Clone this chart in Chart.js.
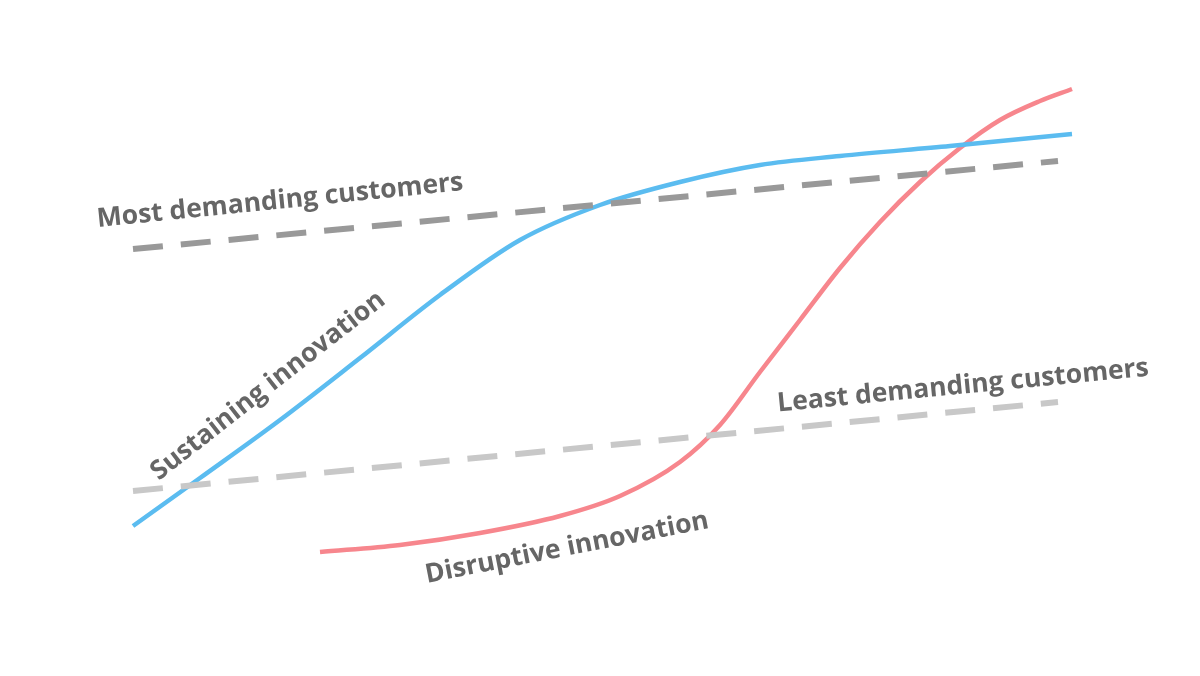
<!DOCTYPE html>
<html><head><meta charset="utf-8">
<script src="https://cdn.jsdelivr.net/npm/chart.js@4"></script>
<style>html,body{margin:0;background:#fff}#w{width:1200px;height:676px}</style>
</head><body><div id="w"><canvas id="c"></canvas></div>
<script>
// performance (y) over time (x), arbitrary units
const sustainingX = [133,200,280,360,440,520,600,680,760,840,950,1072];
const sustainingY = [526,478,420,358,295,240,205,182,165,156,146,134];
const disruptiveX = [320,400,480,560,620,680,720,760,800,840,880,920,960,1000,1040,1072];
const disruptiveY = [552,545,533,516,496,462,425,372,320,268,222,182,148,120,101,89];
const mostX = [133,1058], mostY = [249,161];
const leastX = [133,1058], leastY = [491,402];
const labels = [
  {text:'Most demanding customers', x:280, y:201, rot:-5.8},
  {text:'Least demanding customers', x:963, y:386, rot:-5.5},
  {text:'Sustaining innovation', x:268, y:386, rot:-38},
  {text:'Disruptive innovation', x:567, y:548, rot:-11}
];
const pts=(xs,ys)=>xs.map((x,i)=>({x,y:ys[i]}));
const labelPlugin={id:'lbl',afterDatasetsDraw(ch){
  const c=ch.ctx,xs=ch.scales.x,ys=ch.scales.y;
  c.save();c.font='bold 26.5px "Open Sans"';c.fillStyle='#666';c.textAlign='center';c.textBaseline='middle';
  labels.forEach(l=>{c.save();c.translate(xs.getPixelForValue(l.x),ys.getPixelForValue(l.y));c.rotate(l.rot*Math.PI/180);c.fillText(l.text,0,0);c.restore();});
  c.restore();}};
new Chart(document.getElementById('c'),{type:'line',
 data:{datasets:[
  {data:pts(mostX,mostY),borderColor:'#999',borderWidth:6,borderDash:[30,18],pointRadius:0},
  {data:pts(leastX,leastY),borderColor:'#c8c8c8',borderWidth:6,borderDash:[30,18],pointRadius:0},
  {data:pts(sustainingX,sustainingY),borderColor:'#5bbcf0',borderWidth:4.5,cubicInterpolationMode:'monotone',pointRadius:0},
  {data:pts(disruptiveX,disruptiveY),borderColor:'#f7868d',borderWidth:4.5,cubicInterpolationMode:'monotone',pointRadius:0}
 ]},
 options:{responsive:true,maintainAspectRatio:false,animation:false,layout:{padding:0},
  plugins:{legend:{display:false},tooltip:{enabled:false}},
  scales:{x:{type:'linear',min:0,max:1200,display:false},y:{type:'linear',min:0,max:676,reverse:true,display:false}}},
 plugins:[labelPlugin]});
</script></body></html>
